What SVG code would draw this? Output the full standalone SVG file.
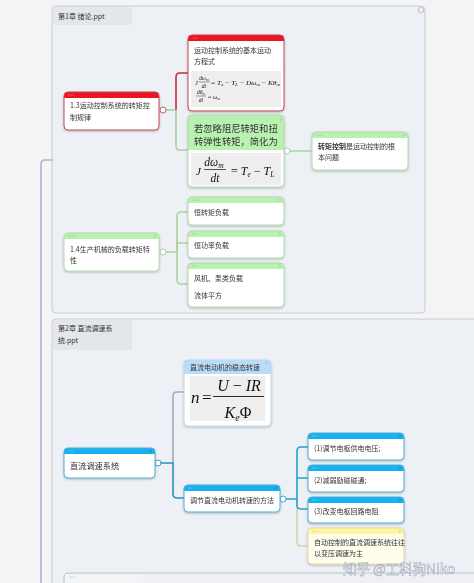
<svg xmlns="http://www.w3.org/2000/svg" width="474" height="583" viewBox="0 0 474 583">
<defs>
<style>
.t{font-family:"Noto Sans CJK SC","Noto Sans",sans-serif;fill:#333;font-size:7px}
.tb{font-family:"Noto Sans CJK SC","Noto Sans",sans-serif;fill:#333}
.m{font-family:"Liberation Serif",serif;font-style:italic;fill:#111}
.mr{font-family:"Liberation Serif",serif;font-style:normal;fill:#111}
.frame{fill:#edf0f5;stroke:#c6ccd6;stroke-width:1}
.ttl{fill:#e3e6eb}
.body{fill:#fff}
.fbox{fill:#eeeeee}
.con{fill:none;stroke-width:1.6;stroke-linecap:round;stroke-linejoin:round}
</style>
<filter id="sh" x="-10%" y="-10%" width="120%" height="130%">
<feDropShadow dx="0" dy="1" stdDeviation="0.9" flood-color="#000" flood-opacity="0.25"/>
</filter>
<g id="dots3"><circle cx="0" cy="0" r="0.5"/><circle cx="2" cy="0" r="0.5"/><circle cx="4" cy="0" r="0.5"/></g>
</defs>
<rect width="474" height="583" fill="#f4f4f5"/>

<!-- frames -->
<g id="frame1">
<rect class="frame" x="52" y="6" width="373" height="307" rx="4"/>
<rect class="ttl" x="53" y="7" width="79" height="18" rx="2"/>
<text class="t" x="58" y="18.5">第1章 绪论.ppt</text>
<circle cx="421" cy="10" r="2.8" fill="none" stroke="#b0b6c0" stroke-width="0.8"/>
</g>
<g id="frame2">
<rect class="frame" x="52" y="319" width="440" height="300" rx="4"/>
<rect class="ttl" x="53" y="320" width="79" height="30" rx="2"/>
<text class="t" x="58" y="331">第2章  直流调速系</text>
<text class="t" x="58" y="343">统.ppt</text>
</g>
<g id="frame3">
<rect x="64" y="573" width="420" height="30" rx="4" fill="#eef0f4" stroke="#bcc2cc"/>
<rect x="65" y="574" width="78" height="12" fill="#f3f4f6"/>
<use href="#dots3" x="70" y="577" fill="#9aa0aa"/>
</g>

<!-- connectors -->
<g id="connectors">
<path class="con" d="M41,583 V164 Q41,160 45,160 H52" stroke="#a9b7cd" stroke-width="2"/>
<path class="con" d="M166,110 H176" stroke="#a9c9a3"/>
<path class="con" d="M176,110 V77 Q176,73 180,73 H188" stroke="#c0303a"/>
<path class="con" d="M176,110 V146 Q176,150 180,150 H188" stroke="#a9d3a1"/>
<circle cx="163" cy="110" r="3" fill="#fff" stroke="#c05058" stroke-width="0.9"/>
<path class="con" d="M290,151 H312" stroke="#a9d3a1"/>
<circle cx="287" cy="151" r="3" fill="#fff" stroke="#a9c9a3" stroke-width="0.9"/>
<path class="con" d="M166,252 H177" stroke="#a9d3a1"/>
<path class="con" d="M177,243 V216 Q177,212 181,212 H188 M177,243 H188 M177,243 V280 Q177,284 181,284 H188" stroke="#a9d3a1"/>
<path class="con" d="M177,252 V243" stroke="#a9d3a1"/>
<circle cx="163" cy="252" r="3" fill="#fff" stroke="#a9c9a3" stroke-width="0.9"/>
<path class="con" d="M173,463 V396 Q173,392 177,392 H184" stroke="#9eabbb"/>
<path class="con" d="M161,463 H173 V494 Q173,498 177,498 H184" stroke="#2b8fc0"/>
<circle cx="158" cy="463" r="3" fill="#fff" stroke="#2b8fc0" stroke-width="0.9"/>
<path class="con" d="M297,499 V542 Q297,546 301,546 H308" stroke="#d3d3b0"/>
<path class="con" d="M286,499 H297 V451 Q297,447 301,447 H308 M297,478 H308 M297,499 V505 Q297,509 301,509 H308" stroke="#2b9fd0"/>
<circle cx="283" cy="499" r="3" fill="#fff" stroke="#2b9fd0" stroke-width="0.9"/>
</g>

<!-- nodes -->
<g id="n13" filter="url(#sh)">
<rect class="body" x="64" y="92" width="95" height="38" rx="4"/>
<path d="M64,98 V96 Q64,92 68,92 H155 Q159,92 159,96 V98 Z" fill="#ea1320"/>
<rect x="64" y="92" width="95" height="38" rx="4" fill="none" stroke="#c8464e"/>
<use href="#dots3" x="69" y="95" fill="#f39aa0"/>
<text class="t" x="70" y="108">1.3运动控制系统的转矩控</text>
<text class="t" x="70" y="120">制规律</text>
</g>

<g id="nbasic" filter="url(#sh)">
<rect class="body" x="188" y="35" width="96" height="76" rx="4"/>
<path d="M188,41 V39 Q188,35 192,35 H280 Q284,35 284,39 V41 Z" fill="#ea1320"/>
<rect x="188" y="35" width="96" height="76" rx="4" fill="none" stroke="#c8464e"/>
<use href="#dots3" x="193" y="38" fill="#f39aa0"/>
<text class="t" x="194" y="53">运动控制系统的基本运动</text>
<text class="t" x="194" y="64">方程式</text>
<rect class="fbox" x="191" y="71" width="90" height="36"/>
<text class="m" x="195" y="85" font-size="6.5">J</text>
<text class="m" x="204" y="80" font-size="5.5" text-anchor="middle">dω<tspan font-size="3.8" dy="1">m</tspan></text>
<line x1="199" y1="82" x2="210" y2="82" stroke="#111" stroke-width="0.4"/>
<text class="m" x="204" y="88" font-size="5.5" text-anchor="middle">dt</text>
<text class="m" x="211" y="84.5" font-size="6.2" textLength="69" lengthAdjust="spacingAndGlyphs"><tspan class="mr">=</tspan> T<tspan font-size="4" dy="1">e</tspan><tspan dy="-1" class="mr"> − </tspan>T<tspan font-size="4" dy="1">L</tspan><tspan dy="-1" class="mr"> − </tspan>Dω<tspan font-size="4" dy="1">m</tspan><tspan dy="-1" class="mr"> − </tspan>Kθ<tspan font-size="4" dy="1">m</tspan></text>
<text class="m" x="201" y="94" font-size="5.5" text-anchor="middle">dθ<tspan font-size="3.8" dy="1">m</tspan></text>
<line x1="196" y1="96" x2="206" y2="96" stroke="#111" stroke-width="0.4"/>
<text class="m" x="201" y="102" font-size="5.5" text-anchor="middle">dt</text>
<text class="m" x="208" y="99" font-size="6"><tspan class="mr">=</tspan> ω<tspan font-size="4" dy="1">m</tspan></text>
</g>

<g id="nsimpl" filter="url(#sh)">
<rect class="body" x="188" y="115" width="96" height="72" rx="4"/>
<path d="M188,150 V119 Q188,115 192,115 H280 Q284,115 284,119 V150 Z" fill="#b9f1b1"/>
<rect x="188" y="115" width="96" height="72" rx="4" fill="none" stroke="#b6d9ae"/>
<path d="M280,118 l1.5,1.5 l-1.5,1.5" fill="none" stroke="#7cb874" stroke-width="0.6"/>
<text class="tb" x="194" y="132" font-size="9.3">若忽略阻尼转矩和扭</text>
<text class="tb" x="194" y="145" font-size="9.3">转弹性转矩，简化为</text>
<rect class="fbox" x="191" y="153" width="90" height="32"/>
<text class="m" x="196" y="175" font-size="11">J</text>
<text class="m" x="214" y="166" font-size="11.5" text-anchor="middle">dω<tspan font-size="7.5" dy="2">m</tspan></text>
<line x1="204" y1="169.5" x2="226" y2="169.5" stroke="#111" stroke-width="0.7"/>
<text class="m" x="215" y="182" font-size="11.5" text-anchor="middle">dt</text>
<text class="m" x="231" y="175" font-size="12"><tspan class="mr">=</tspan> T<tspan font-size="7.5" dy="2">e</tspan><tspan dy="-2" class="mr"> − </tspan>T<tspan font-size="7.5" dy="2">L</tspan></text>
</g>

<g id="ntorque" filter="url(#sh)">
<rect class="body" x="312" y="132" width="96" height="38" rx="4"/>
<path d="M312,138 V136 Q312,132 316,132 H404 Q408,132 408,136 V138 Z" fill="#b9f1b1"/>
<rect x="312" y="132" width="96" height="38" rx="4" fill="none" stroke="#b6d9ae"/>
<use href="#dots3" x="317" y="135" fill="#7cb874"/>
<path d="M403,133.5 l1.5,1.5 l-1.5,1.5" fill="none" stroke="#7cb874" stroke-width="0.6"/>
<text class="t" x="318" y="149"><tspan font-weight="bold">转矩控制</tspan>是运动控制的根</text>
<text class="t" x="318" y="160">本问题</text>
</g>

<g id="n14" filter="url(#sh)">
<rect class="body" x="64" y="233" width="95" height="38" rx="4"/>
<path d="M64,239 V237 Q64,233 68,233 H155 Q159,233 159,237 V239 Z" fill="#b9f1b1"/>
<rect x="64" y="233" width="95" height="38" rx="4" fill="none" stroke="#b6d9ae"/>
<use href="#dots3" x="69" y="236" fill="#7cb874"/>
<path d="M154,234.5 l1.5,1.5 l-1.5,1.5" fill="none" stroke="#7cb874" stroke-width="0.6"/>
<text class="t" x="70" y="252">1.4生产机械的负载转矩特</text>
<text class="t" x="70" y="263">性</text>
</g>

<g id="nc1" filter="url(#sh)">
<rect class="body" x="188" y="197" width="96" height="28" rx="4"/>
<path d="M188,203 V201 Q188,197 192,197 H280 Q284,197 284,201 V203 Z" fill="#b9f1b1"/>
<rect x="188" y="197" width="96" height="28" rx="4" fill="none" stroke="#b6d9ae"/>
<use href="#dots3" x="193" y="200" fill="#7cb874"/>
<path d="M279,198.5 l1.5,1.5 l-1.5,1.5" fill="none" stroke="#7cb874" stroke-width="0.6"/>
<text class="t" x="194" y="215">恒转矩负载</text>
</g>

<g id="nc2" filter="url(#sh)">
<rect class="body" x="188" y="231" width="96" height="27" rx="4"/>
<path d="M188,237 V235 Q188,231 192,231 H280 Q284,231 284,235 V237 Z" fill="#b9f1b1"/>
<rect x="188" y="231" width="96" height="27" rx="4" fill="none" stroke="#b6d9ae"/>
<use href="#dots3" x="193" y="234" fill="#7cb874"/>
<path d="M279,232.5 l1.5,1.5 l-1.5,1.5" fill="none" stroke="#7cb874" stroke-width="0.6"/>
<text class="t" x="194" y="248">恒功率负载</text>
</g>

<g id="nc3" filter="url(#sh)">
<rect class="body" x="188" y="263" width="96" height="44" rx="4"/>
<path d="M188,269 V267 Q188,263 192,263 H280 Q284,263 284,267 V269 Z" fill="#b9f1b1"/>
<rect x="188" y="263" width="96" height="44" rx="4" fill="none" stroke="#b6d9ae"/>
<use href="#dots3" x="193" y="266" fill="#7cb874"/>
<path d="M279,264.5 l1.5,1.5 l-1.5,1.5" fill="none" stroke="#7cb874" stroke-width="0.6"/>
<text class="t" x="194" y="281">风机、泵类负载</text>
<text class="t" x="194" y="298">流体平方</text>
</g>

<g id="nss" filter="url(#sh)">
<rect class="body" x="184" y="360" width="87" height="66" rx="4"/>
<path d="M184,374 V364 Q184,360 188,360 H267 Q271,360 271,364 V374 Z" fill="#b9dcf8"/>
<rect x="184" y="360" width="87" height="66" rx="4" fill="none" stroke="#c2d8ee"/>
<path d="M266,361.5 l1.5,1.5 l-1.5,1.5" fill="none" stroke="#6fa8dc" stroke-width="0.6"/>
<text class="t" x="190" y="370" font-size="6.3">直流电动机的稳态转速</text>
<rect class="fbox" x="190" y="376" width="75" height="45"/>
<text class="m" x="191" y="403" font-size="17">n</text>
<text class="mr" x="202" y="403" font-size="17">=</text>
<text class="m" x="239" y="391" font-size="16" text-anchor="middle">U <tspan class="mr">−</tspan> IR</text>
<line x1="213" y1="396.5" x2="264" y2="396.5" stroke="#111" stroke-width="0.9"/>
<text class="m" x="238" y="418" font-size="16" text-anchor="middle">K<tspan font-size="10" dy="3">e</tspan><tspan class="mr" dy="-3">Φ</tspan></text>
</g>

<g id="ndc" filter="url(#sh)">
<rect class="body" x="64" y="448" width="91" height="30" rx="4"/>
<path d="M64,454 V452 Q64,448 68,448 H151 Q155,448 155,452 V454 Z" fill="#19b2f0"/>
<rect x="64" y="448" width="91" height="30" rx="4" fill="none" stroke="#4eaed6"/>
<use href="#dots3" x="69" y="451" fill="#8fd6f6"/>
<path d="M150,449.5 l1.5,1.5 l-1.5,1.5" fill="none" stroke="#0d6f9c" stroke-width="0.6"/>
<text class="tb" x="70" y="469" font-size="8.2">直流调速系统</text>
</g>

<g id="nmeth" filter="url(#sh)">
<rect class="body" x="184" y="485" width="96" height="27" rx="4"/>
<path d="M184,491 V489 Q184,485 188,485 H276 Q280,485 280,489 V491 Z" fill="#19b2f0"/>
<rect x="184" y="485" width="96" height="27" rx="4" fill="none" stroke="#4eaed6"/>
<use href="#dots3" x="189" y="488" fill="#8fd6f6"/>
<path d="M275,486.5 l1.5,1.5 l-1.5,1.5" fill="none" stroke="#0d6f9c" stroke-width="0.6"/>
<text class="t" x="190" y="503" font-size="6.6">调节直流电动机转速的方法</text>
</g>

<g id="nm1" filter="url(#sh)">
<rect class="body" x="308" y="433" width="96" height="27" rx="4"/>
<path d="M308,439 V437 Q308,433 312,433 H400 Q404,433 404,437 V439 Z" fill="#19b2f0"/>
<rect x="308" y="433" width="96" height="27" rx="4" fill="none" stroke="#4eaed6"/>
<use href="#dots3" x="313" y="436" fill="#8fd6f6"/>
<path d="M399,434.5 l1.5,1.5 l-1.5,1.5" fill="none" stroke="#0d6f9c" stroke-width="0.6"/>
<text class="t" x="314" y="451" font-size="6.6">(1)调节电枢供电电压;</text>
</g>

<g id="nm2" filter="url(#sh)">
<rect class="body" x="308" y="465" width="96" height="27" rx="4"/>
<path d="M308,471 V469 Q308,465 312,465 H400 Q404,465 404,469 V471 Z" fill="#19b2f0"/>
<rect x="308" y="465" width="96" height="27" rx="4" fill="none" stroke="#4eaed6"/>
<use href="#dots3" x="313" y="468" fill="#8fd6f6"/>
<path d="M399,466.5 l1.5,1.5 l-1.5,1.5" fill="none" stroke="#0d6f9c" stroke-width="0.6"/>
<text class="t" x="314" y="483" font-size="6.6">(2)减弱励磁磁通;</text>
</g>

<g id="nm3" filter="url(#sh)">
<rect class="body" x="308" y="497" width="96" height="26" rx="4"/>
<path d="M308,503 V501 Q308,497 312,497 H400 Q404,497 404,501 V503 Z" fill="#19b2f0"/>
<rect x="308" y="497" width="96" height="26" rx="4" fill="none" stroke="#4eaed6"/>
<use href="#dots3" x="313" y="500" fill="#8fd6f6"/>
<path d="M399,498.5 l1.5,1.5 l-1.5,1.5" fill="none" stroke="#0d6f9c" stroke-width="0.6"/>
<text class="t" x="314" y="514" font-size="6.6">(3)改变电枢回路电阻</text>
</g>

<g id="nm4" filter="url(#sh)">
<rect x="308" y="528" width="96" height="36" rx="4" fill="#fffdec"/>
<path d="M308,534 V532 Q308,528 312,528 H400 Q404,528 404,532 V534 Z" fill="#fff6a0"/>
<rect x="308" y="528" width="96" height="36" rx="4" fill="none" stroke="#e2ddaa"/>
<use href="#dots3" x="313" y="531" fill="#c8bf60"/>
<path d="M399,529.5 l1.5,1.5 l-1.5,1.5" fill="none" stroke="#b0a840" stroke-width="0.6"/>
<text class="t" x="314" y="545" font-size="6.3">自动控制的直流调速系统往往</text>
<text class="t" x="314" y="556" font-size="6.3">以变压调速为主</text>
</g>

<text x="343" y="574" font-family="'Noto Sans CJK SC',sans-serif" font-size="13.5" fill="#ffffff" stroke="#8a93a3" stroke-width="0.5" opacity="0.85">知乎 @工科狗Niko</text>
</svg>
